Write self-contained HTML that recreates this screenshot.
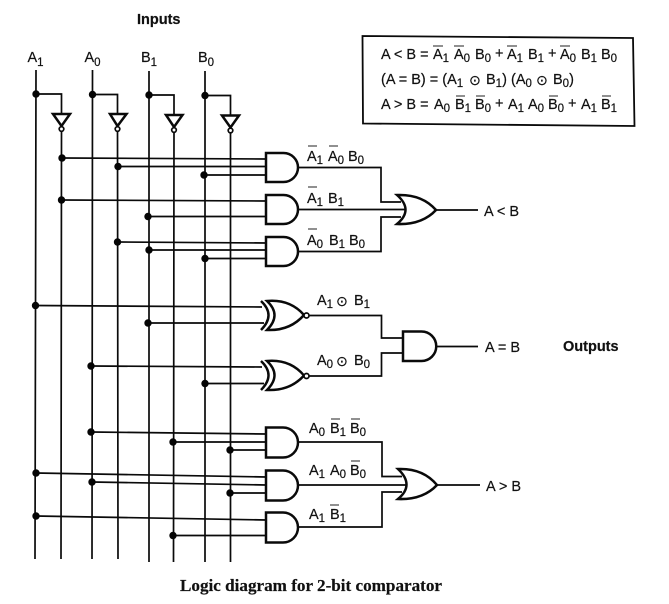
<!DOCTYPE html>
<html><head><meta charset="utf-8"><style>
html,body{margin:0;padding:0;background:#fff}
svg{display:block}
text{font-family:"Liberation Sans",sans-serif;font-size:14.500px;fill:#111;stroke:#111;stroke-width:.2}
.s{font-size:11.500px}
.b{font-weight:bold}
.w{fill:none;stroke:#0a0a0a;stroke-width:1.700}
.g{fill:none;stroke:#0a0a0a;stroke-width:2.500}
.o{stroke:#222;stroke-width:.9;fill:none}
.d{fill:#050505}
.x{font-family:"DejaVu Sans",sans-serif;font-size:14px}
#m{filter:blur(.3px)}
</style></head><body>
<svg id="m" width="669" height="604" viewBox="0 0 669 604" xmlns="http://www.w3.org/2000/svg">
<text class="b" x="137" y="24" style="font-size:14.500px">Inputs</text>
<g>
<text x="27.500" y="62">A<tspan class="s" dy="4">1</tspan></text>
<text x="84.500" y="62">A<tspan class="s" dy="4">0</tspan></text>
<text x="141" y="62">B<tspan class="s" dy="4">1</tspan></text>
<text x="198" y="62">B<tspan class="s" dy="4">0</tspan></text>
</g>
<!-- verticals -->
<g class="w">
<path d="M36 70L35 559M92.500 70L92 559M149 71L149 562M205 71L205 562"/>
<path d="M61.500 129L61 559M117.500 129L118 559M174 129L173.500 562M230.500 130L230.500 562"/>
<path d="M36 94H61.500V114M92.500 94.500H117.500V114M149 95H174V115M205 95.500H230.500V115"/>
<!-- gate inputs -->
<path d="M62 158L266 159M118 166.500H266M204 175H266"/>
<path d="M61.500 200L266 201M148 216.500H266"/>
<path d="M117.500 242L266 243M149 250H266M205 258.500H266"/>
<path d="M35.500 305.500L262 307M148 323H264"/>
<path d="M91 366L262 367M205 383.500H264"/>
<path d="M91 432L266 434M173 442H266M230 450H266"/>
<path d="M36 473L266 477M92 482L266 485M230 493H266"/>
<path d="M36 516L266 520M173 535.500H266"/>
<!-- outputs -->
<path d="M298 167.500H381V202H401M298 209.500H405M298 251.500H381V217H401M436 210H478"/>
<path d="M309 315.500H381.500V338H403M309 376H381.500V353H403M436 346.500H478"/>
<path d="M298 442H382V476.500H402M298 485H407M298 527H382V492H402M437 485H480"/>
</g>
<!-- dots -->
<g class="d">
<circle cx="36" cy="94" r="3.700"/><circle cx="92.500" cy="94.500" r="3.700"/><circle cx="149" cy="95" r="3.700"/><circle cx="205" cy="95.500" r="3.700"/>
<circle cx="62" cy="158" r="3.700"/><circle cx="118" cy="166.500" r="3.700"/><circle cx="204" cy="175" r="3.700"/>
<circle cx="61.500" cy="200" r="3.700"/><circle cx="148" cy="216.500" r="3.700"/>
<circle cx="117.500" cy="242" r="3.700"/><circle cx="149" cy="250" r="3.700"/><circle cx="205" cy="258.500" r="3.700"/>
<circle cx="35.500" cy="305.500" r="3.700"/><circle cx="148" cy="323" r="3.700"/>
<circle cx="91" cy="366" r="3.700"/><circle cx="205" cy="383.500" r="3.700"/>
<circle cx="91" cy="432" r="3.700"/><circle cx="173" cy="442" r="3.700"/><circle cx="230" cy="450" r="3.700"/>
<circle cx="36" cy="473" r="3.700"/><circle cx="92" cy="482" r="3.700"/><circle cx="230" cy="493" r="3.700"/>
<circle cx="36" cy="516" r="3.700"/><circle cx="173" cy="535.500" r="3.700"/>
</g>
<!-- inverters -->
<g class="g">
<path d="M53 114H70L61.500 126Z" style="fill:#fff"/>
<path d="M110 114H126.500L117.500 126Z" style="fill:#fff"/>
<path d="M166 115H182.500L174 127Z" style="fill:#fff"/>
<path d="M222 115.500H239L230.500 127.500Z" style="fill:#fff"/>
</g>
<g class="w" style="fill:#fff">
<circle cx="61.500" cy="129" r="2.300"/><circle cx="117.500" cy="129" r="2.300"/><circle cx="174" cy="130" r="2.300"/><circle cx="230.500" cy="130.500" r="2.300"/>
</g>
<!-- AND gates -->
<g class="g" style="fill:#fff">
<path d="M266 153H283.500A14.500 14.500 0 0 1 283.500 182H266Z"/>
<path d="M266 195H283.500A14.500 14.500 0 0 1 283.500 224H266Z"/>
<path d="M266 237H283.500A14.500 14.500 0 0 1 283.500 266H266Z"/>
<path d="M403 331.500H421.500A14.700 14.700 0 0 1 421.500 361H403Z"/>
<path d="M266 427.500H283A15 15 0 0 1 283 457.500H266Z"/>
<path d="M266 470.500H283A15 15 0 0 1 283 500.500H266Z"/>
<path d="M266 512.500H283A15 15 0 0 1 283 542.500H266Z"/>
<!-- OR gates -->
<path d="M397 195Q422 194 436 210Q422 225 397 224Q414 210 397 195Z"/>
<path d="M398 469Q423 468 437 485Q423 500 398 499Q415 485 398 469Z"/>
<!-- XNOR gates -->
<path d="M267 301Q290 299 304 315Q290 331 267 330Q282 315 267 301Z"/>
<path d="M267 361Q290 359 304 375.500Q290 391 267 390Q282 375 267 361Z"/>
</g>
<g class="g">
<path d="M261 301Q276 315 261 330M261 361Q276 375 261 390"/>
</g>
<g class="w" style="fill:#fff">
<circle cx="306.500" cy="315.500" r="2.500"/><circle cx="306.500" cy="376" r="2.500"/>
</g>
<!-- equation box -->
<path d="M362.500 36L633 38L634.500 126L363 123.500Z" style="fill:none;stroke:#0a0a0a;stroke-width:1.800"/>
<g>
<text x="381" y="59">A &lt; B =</text>
<text x="433" y="59">A<tspan class="s" dy="3">1</tspan></text>
<text x="454" y="59">A<tspan class="s" dy="3">0</tspan></text>
<text x="475" y="59">B<tspan class="s" dy="3">0</tspan></text>
<text x="495" y="58">+</text>
<text x="507" y="59">A<tspan class="s" dy="3">1</tspan></text>
<text x="528" y="59">B<tspan class="s" dy="3">1</tspan></text>
<text x="548" y="58">+</text>
<text x="560" y="59">A<tspan class="s" dy="3">0</tspan></text>
<text x="581" y="59">B<tspan class="s" dy="3">1</tspan></text>
<text x="601" y="59">B<tspan class="s" dy="3">0</tspan></text>

<text x="381" y="84">(A = B) = (A<tspan class="s" dy="3">1</tspan></text>
<text class="x" x="469" y="85">⊙</text>
<text x="486" y="84">B<tspan class="s" dy="3">1</tspan><tspan dy="-3">)</tspan></text>
<text x="511" y="84">(A<tspan class="s" dy="3">0</tspan></text>
<text class="x" x="536" y="85">⊙</text>
<text x="553" y="84">B<tspan class="s" dy="3">0</tspan><tspan dy="-3">)</tspan></text>

<text x="381" y="109">A &gt; B =</text>
<text x="434" y="109">A<tspan class="s" dy="3">0</tspan></text>
<text x="455" y="109">B<tspan class="s" dy="3">1</tspan></text>
<text x="475" y="109">B<tspan class="s" dy="3">0</tspan></text>
<text x="495" y="108">+</text>
<text x="508" y="109">A<tspan class="s" dy="3">1</tspan></text>
<text x="528" y="109">A<tspan class="s" dy="3">0</tspan></text>
<text x="548" y="109">B<tspan class="s" dy="3">0</tspan></text>
<text x="568" y="108">+</text>
<text x="581" y="109">A<tspan class="s" dy="3">1</tspan></text>
<text x="601" y="109">B<tspan class="s" dy="3">1</tspan></text>
</g>
<path class="o" d="M433 46H443M454 46H464M507 46H517M560 46H570M456 96H465M476 96H485M549 96H558M602 96H611"/>
<!-- gate labels -->
<g>
<text x="307" y="161">A<tspan class="s" dy="3">1</tspan></text>
<text x="328" y="161">A<tspan class="s" dy="3">0</tspan></text>
<text x="348" y="161">B<tspan class="s" dy="3">0</tspan></text>
<text x="307" y="203">A<tspan class="s" dy="3">1</tspan></text>
<text x="328" y="203">B<tspan class="s" dy="3">1</tspan></text>
<text x="307" y="245">A<tspan class="s" dy="3">0</tspan></text>
<text x="329" y="245">B<tspan class="s" dy="3">1</tspan></text>
<text x="349" y="245">B<tspan class="s" dy="3">0</tspan></text>

<text x="317" y="305">A<tspan class="s" dy="3">1</tspan></text>
<text class="x" x="336" y="306">⊙</text>
<text x="354" y="305">B<tspan class="s" dy="3">1</tspan></text>
<text x="317" y="365">A<tspan class="s" dy="3">0</tspan></text>
<text class="x" x="336" y="366">⊙</text>
<text x="354" y="365">B<tspan class="s" dy="3">0</tspan></text>

<text x="309" y="433">A<tspan class="s" dy="3">0</tspan></text>
<text x="330" y="433">B<tspan class="s" dy="3">1</tspan></text>
<text x="350" y="433">B<tspan class="s" dy="3">0</tspan></text>
<text x="309" y="475">A<tspan class="s" dy="3">1</tspan></text>
<text x="330" y="475">A<tspan class="s" dy="3">0</tspan></text>
<text x="350" y="475">B<tspan class="s" dy="3">0</tspan></text>
<text x="309" y="519">A<tspan class="s" dy="3">1</tspan></text>
<text x="330" y="519">B<tspan class="s" dy="3">1</tspan></text>
</g>
<path class="o" d="M308 146H317M329 146H338M308 187H317M308 229H317M331 419H340M351 419H360M351 461H360M330 505H339"/>
<text x="484" y="216">A &lt; B</text>
<text x="485" y="352">A = B</text>
<text x="486" y="491">A &gt; B</text>
<text class="b" x="563" y="351" style="font-size:14.500px">Outputs</text>
<text x="180" y="591" textLength="262" lengthAdjust="spacingAndGlyphs" style="font-family:'Liberation Serif',serif;font-weight:bold;font-size:17px">Logic diagram for 2-bit comparator</text>
</svg>
</body></html>
